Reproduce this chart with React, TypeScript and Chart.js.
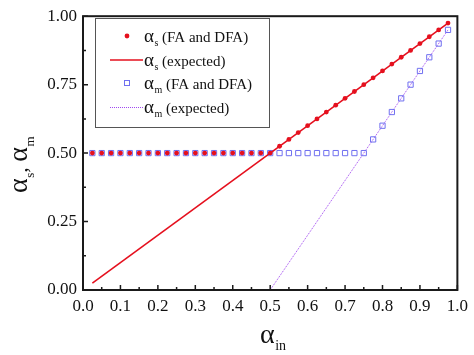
import { useEffect, useRef } from 'react';
import { Chart, registerables } from 'chart.js';

Chart.register(...registerables);

// ---- data ----
const alphaIn = [
  0.025, 0.05, 0.075, 0.1, 0.125, 0.15, 0.175, 0.2, 0.225, 0.25,
  0.275, 0.3, 0.325, 0.35, 0.375, 0.4, 0.425, 0.45, 0.475, 0.5,
  0.525, 0.55, 0.575, 0.6, 0.625, 0.65, 0.675, 0.7, 0.725, 0.75,
  0.775, 0.8, 0.825, 0.85, 0.875, 0.9, 0.925, 0.95, 0.975,
];
const alphaSMeasured = [
  0.5, 0.5, 0.5, 0.5, 0.5, 0.5, 0.5, 0.5, 0.5, 0.5,
  0.5, 0.5, 0.5, 0.5, 0.5, 0.5, 0.5, 0.5, 0.5, 0.5,
  0.525, 0.55, 0.575, 0.6, 0.625, 0.65, 0.675, 0.7, 0.725, 0.75,
  0.775, 0.8, 0.825, 0.85, 0.875, 0.9, 0.925, 0.95, 0.975,
];
const alphaMMeasured = [
  0.5, 0.5, 0.5, 0.5, 0.5, 0.5, 0.5, 0.5, 0.5, 0.5,
  0.5, 0.5, 0.5, 0.5, 0.5, 0.5, 0.5, 0.5, 0.5, 0.5,
  0.5, 0.5, 0.5, 0.5, 0.5, 0.5, 0.5, 0.5, 0.5, 0.5,
  0.55, 0.6, 0.65, 0.7, 0.75, 0.8, 0.85, 0.9, 0.95,
];
const alphaSExpectedX = [0.025, 0.975];
const alphaSExpectedY = [0.025, 0.975];
const alphaMExpectedX = [0.5, 0.975];
const alphaMExpectedY = [0.0, 0.95];

const xTicks = [0, 0.1, 0.2, 0.3, 0.4, 0.5, 0.6, 0.7, 0.8, 0.9, 1.0];
const yTicks = [0, 0.25, 0.5, 0.75, 1.0];

const legendSubs = ['s', 's', 'm', 'm'];
const legendRests = [' (FA and DFA)', ' (expected)', ' (FA and DFA)', ' (expected)'];

const RED = '#e5101e';
const BLUE = '#7070f0';
const VIOLET = '#a048f0';
const SERIF = '"Liberation Serif", "Times New Roman", serif';

function pts(xs: number[], ys: number[]) {
  return xs.map((x, i) => ({ x, y: ys[i] }));
}

function drawAlpha(
  ctx: CanvasRenderingContext2D,
  x: number,
  y: number,
  sub: string,
  rest: string,
  aSize: number,
  sSize: number,
  rSize: number,
  subDrop: number,
) {
  ctx.font = `${aSize}px ${SERIF}`;
  ctx.fillText('α', x, y);
  x += ctx.measureText('α').width + 0.5;
  ctx.font = `${sSize}px ${SERIF}`;
  ctx.fillText(sub, x, y + subDrop);
  x += ctx.measureText(sub).width;
  if (rest) {
    ctx.font = `${rSize}px ${SERIF}`;
    ctx.fillText(rest, x, y);
    x += ctx.measureText(rest).width;
  }
  return x;
}

const decorPlugin = {
  id: 'decor',
  afterDatasetsDraw(chart: any) {
    const ctx: CanvasRenderingContext2D = chart.ctx;
    const { left, right, top, bottom } = chart.chartArea;
    const xs = chart.scales.x;
    const ys = chart.scales.y;
    ctx.save();
    // frame
    ctx.strokeStyle = '#1a1a1a';
    ctx.lineWidth = 2;
    ctx.strokeRect(left, top, right - left, bottom - top);
    // inward ticks
    ctx.lineWidth = 1.5;
    ctx.beginPath();
    for (let i = 0; i <= 20; i++) {
      const px = xs.getPixelForValue(i / 20);
      const len = i % 2 === 0 ? 5 : 3;
      ctx.moveTo(px, bottom);
      ctx.lineTo(px, bottom - len);
    }
    for (let i = 0; i <= 8; i++) {
      const py = ys.getPixelForValue(i / 8);
      const len = i % 2 === 0 ? 5 : 3;
      ctx.moveTo(left, py);
      ctx.lineTo(left + len, py);
    }
    ctx.stroke();

    // legend box
    const bx = 95, by = 18, bw = 174, bh = 109;
    ctx.fillStyle = '#ffffff';
    ctx.fillRect(bx, by, bw, bh);
    ctx.strokeStyle = '#555555';
    ctx.lineWidth = 1;
    ctx.strokeRect(bx + 0.5, by + 0.5, bw, bh);

    const rowY = [36, 60, 83, 107];
    // markers
    ctx.fillStyle = RED;
    ctx.beginPath();
    ctx.arc(127, rowY[0], 2.4, 0, Math.PI * 2);
    ctx.fill();
    ctx.strokeStyle = RED;
    ctx.lineWidth = 1.6;
    ctx.beginPath();
    ctx.moveTo(110, rowY[1]);
    ctx.lineTo(143, rowY[1]);
    ctx.stroke();
    ctx.strokeStyle = BLUE;
    ctx.lineWidth = 1;
    ctx.strokeRect(124.5, rowY[2] - 2.5, 5, 5);
    ctx.strokeStyle = VIOLET;
    ctx.setLineDash([1, 1]);
    ctx.beginPath();
    ctx.moveTo(110, rowY[3] + 0.5);
    ctx.lineTo(143, rowY[3] + 0.5);
    ctx.stroke();
    ctx.setLineDash([]);

    // legend text
    ctx.fillStyle = '#111111';
    ctx.textBaseline = 'alphabetic';
    ctx.textAlign = 'left';
    for (let i = 0; i < 4; i++) {
      drawAlpha(ctx, 144, rowY[i] + 6, legendSubs[i], legendRests[i], 19, 10, 15, 4);
    }

    // x title
    drawAlpha(ctx, 260, 343, 'in', '', 28, 14, 14, 7);

    // y title
    ctx.translate(27, 193);
    ctx.rotate(-Math.PI / 2);
    let tx = drawAlpha(ctx, 0, 0, 's', '', 28, 13, 13, 7);
    ctx.font = `22px ${SERIF}`;
    ctx.fillText(', ', tx, 0);
    tx += ctx.measureText(', ').width;
    drawAlpha(ctx, tx, 0, 'm', '', 28, 13, 13, 7);
    ctx.restore();
  },
};

export default function App() {
  const ref = useRef<HTMLCanvasElement>(null);
  useEffect(() => {
    if (!ref.current) return;
    const chart = new Chart(ref.current, {
      type: 'scatter',
      data: {
        datasets: [
          {
            label: 'αs (FA and DFA)',
            data: pts(alphaIn, alphaSMeasured),
            pointStyle: 'circle',
            pointRadius: 2.4,
            backgroundColor: RED,
            borderColor: RED,
            borderWidth: 0,
            showLine: false,
          },
          {
            label: 'αs (expected)',
            data: pts(alphaSExpectedX, alphaSExpectedY),
            showLine: true,
            borderColor: RED,
            borderWidth: 1.6,
            pointRadius: 0,
          },
          {
            label: 'αm (FA and DFA)',
            data: pts(alphaIn, alphaMMeasured),
            pointStyle: 'rect',
            pointRadius: 3.7,
            backgroundColor: 'rgba(0,0,0,0)',
            borderColor: BLUE,
            borderWidth: 1,
            showLine: false,
          },
          {
            label: 'αm (expected)',
            data: pts(alphaMExpectedX, alphaMExpectedY),
            showLine: true,
            borderColor: VIOLET,
            borderWidth: 1,
            borderDash: [1, 1],
            pointRadius: 0,
          },
        ],
      },
      options: {
        responsive: false,
        animation: false,
        layout: { padding: { top: 14, right: 13, left: 0, bottom: 0 } },
        plugins: {
          legend: { display: false },
          tooltip: { enabled: false },
        },
        scales: {
          x: {
            type: 'linear',
            min: 0,
            max: 1,
            afterBuildTicks: (s: any) => {
              s.ticks = xTicks.map((v) => ({ value: v }));
            },
            afterFit: (s: any) => {
              s.height = 65;
            },
            ticks: {
              callback: (v: any) => Number(v).toFixed(1),
              font: { family: SERIF, size: 17 },
              color: '#111111',
              padding: 6,
              maxRotation: 0,
              autoSkip: false,
            },
            grid: { display: false, drawTicks: false },
            border: { display: false },
          },
          y: {
            type: 'linear',
            min: 0,
            max: 1,
            afterBuildTicks: (s: any) => {
              s.ticks = yTicks.map((v) => ({ value: v }));
            },
            afterFit: (s: any) => {
              s.width = 83;
            },
            ticks: {
              callback: (v: any) => Number(v).toFixed(2),
              font: { family: SERIF, size: 17 },
              color: '#111111',
              padding: 6,
              autoSkip: false,
            },
            grid: { display: false, drawTicks: false },
            border: { display: false },
          },
        },
      },
      plugins: [decorPlugin],
    });
    return () => chart.destroy();
  }, []);
  return (
    <div style={{ position: 'absolute', left: 0, top: 0, width: 474, height: 355 }}>
      <canvas ref={ref} width={474} height={355} />
    </div>
  );
}
